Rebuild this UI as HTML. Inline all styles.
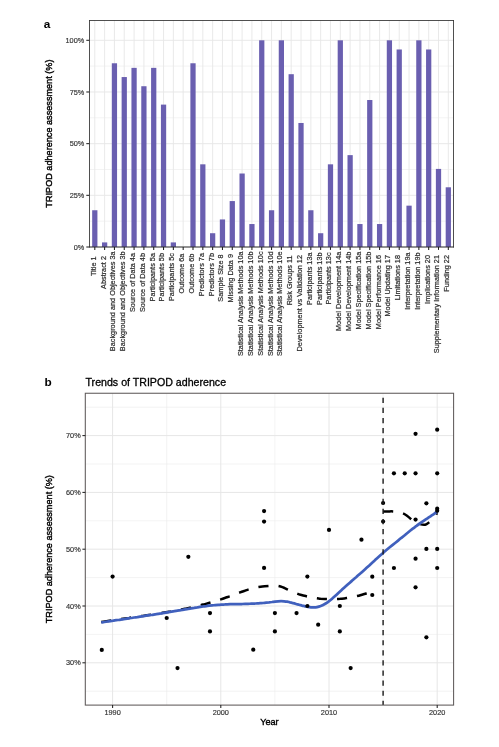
<!DOCTYPE html><html><head><meta charset="utf-8"><title>TRIPOD adherence</title>
<style>html,body{margin:0;padding:0;background:#fff}svg{display:block}text{font-family:"Liberation Sans",Arial,Helvetica,sans-serif;fill:#333}.blk{fill:#000}.tk{font-size:7.34px;fill:#353535;stroke:#353535;stroke-width:0.16px}.tkx{font-size:7.34px;fill:#303030;stroke:#303030;stroke-width:0.22px}.ti{stroke:#000;stroke-width:0.38px}</style></head><body>
<svg width="499" height="747" viewBox="0 0 499 747">
<rect width="499" height="747" fill="#fff"/>
<g id="panel-a">
<line x1="89.2" x2="453.6" y1="221.16" y2="221.16" stroke="#ebebeb" stroke-width="0.6"/>
<line x1="89.2" x2="453.6" y1="169.49" y2="169.49" stroke="#ebebeb" stroke-width="0.6"/>
<line x1="89.2" x2="453.6" y1="117.81" y2="117.81" stroke="#ebebeb" stroke-width="0.6"/>
<line x1="89.2" x2="453.6" y1="66.14" y2="66.14" stroke="#ebebeb" stroke-width="0.6"/>
<line x1="89.2" x2="453.6" y1="247.00" y2="247.00" stroke="#e6e6e6" stroke-width="0.9"/>
<line x1="89.2" x2="453.6" y1="195.32" y2="195.32" stroke="#e6e6e6" stroke-width="0.9"/>
<line x1="89.2" x2="453.6" y1="143.65" y2="143.65" stroke="#e6e6e6" stroke-width="0.9"/>
<line x1="89.2" x2="453.6" y1="91.98" y2="91.98" stroke="#e6e6e6" stroke-width="0.9"/>
<line x1="89.2" x2="453.6" y1="40.30" y2="40.30" stroke="#e6e6e6" stroke-width="0.9"/>
<line y1="20.2" y2="247.0" x1="94.80" x2="94.80" stroke="#e6e6e6" stroke-width="0.9"/>
<line y1="20.2" y2="247.0" x1="104.62" x2="104.62" stroke="#e6e6e6" stroke-width="0.9"/>
<line y1="20.2" y2="247.0" x1="114.44" x2="114.44" stroke="#e6e6e6" stroke-width="0.9"/>
<line y1="20.2" y2="247.0" x1="124.26" x2="124.26" stroke="#e6e6e6" stroke-width="0.9"/>
<line y1="20.2" y2="247.0" x1="134.08" x2="134.08" stroke="#e6e6e6" stroke-width="0.9"/>
<line y1="20.2" y2="247.0" x1="143.90" x2="143.90" stroke="#e6e6e6" stroke-width="0.9"/>
<line y1="20.2" y2="247.0" x1="153.72" x2="153.72" stroke="#e6e6e6" stroke-width="0.9"/>
<line y1="20.2" y2="247.0" x1="163.54" x2="163.54" stroke="#e6e6e6" stroke-width="0.9"/>
<line y1="20.2" y2="247.0" x1="173.36" x2="173.36" stroke="#e6e6e6" stroke-width="0.9"/>
<line y1="20.2" y2="247.0" x1="183.18" x2="183.18" stroke="#e6e6e6" stroke-width="0.9"/>
<line y1="20.2" y2="247.0" x1="193.00" x2="193.00" stroke="#e6e6e6" stroke-width="0.9"/>
<line y1="20.2" y2="247.0" x1="202.82" x2="202.82" stroke="#e6e6e6" stroke-width="0.9"/>
<line y1="20.2" y2="247.0" x1="212.64" x2="212.64" stroke="#e6e6e6" stroke-width="0.9"/>
<line y1="20.2" y2="247.0" x1="222.46" x2="222.46" stroke="#e6e6e6" stroke-width="0.9"/>
<line y1="20.2" y2="247.0" x1="232.28" x2="232.28" stroke="#e6e6e6" stroke-width="0.9"/>
<line y1="20.2" y2="247.0" x1="242.10" x2="242.10" stroke="#e6e6e6" stroke-width="0.9"/>
<line y1="20.2" y2="247.0" x1="251.92" x2="251.92" stroke="#e6e6e6" stroke-width="0.9"/>
<line y1="20.2" y2="247.0" x1="261.74" x2="261.74" stroke="#e6e6e6" stroke-width="0.9"/>
<line y1="20.2" y2="247.0" x1="271.56" x2="271.56" stroke="#e6e6e6" stroke-width="0.9"/>
<line y1="20.2" y2="247.0" x1="281.38" x2="281.38" stroke="#e6e6e6" stroke-width="0.9"/>
<line y1="20.2" y2="247.0" x1="291.20" x2="291.20" stroke="#e6e6e6" stroke-width="0.9"/>
<line y1="20.2" y2="247.0" x1="301.02" x2="301.02" stroke="#e6e6e6" stroke-width="0.9"/>
<line y1="20.2" y2="247.0" x1="310.84" x2="310.84" stroke="#e6e6e6" stroke-width="0.9"/>
<line y1="20.2" y2="247.0" x1="320.66" x2="320.66" stroke="#e6e6e6" stroke-width="0.9"/>
<line y1="20.2" y2="247.0" x1="330.48" x2="330.48" stroke="#e6e6e6" stroke-width="0.9"/>
<line y1="20.2" y2="247.0" x1="340.30" x2="340.30" stroke="#e6e6e6" stroke-width="0.9"/>
<line y1="20.2" y2="247.0" x1="350.12" x2="350.12" stroke="#e6e6e6" stroke-width="0.9"/>
<line y1="20.2" y2="247.0" x1="359.94" x2="359.94" stroke="#e6e6e6" stroke-width="0.9"/>
<line y1="20.2" y2="247.0" x1="369.76" x2="369.76" stroke="#e6e6e6" stroke-width="0.9"/>
<line y1="20.2" y2="247.0" x1="379.58" x2="379.58" stroke="#e6e6e6" stroke-width="0.9"/>
<line y1="20.2" y2="247.0" x1="389.40" x2="389.40" stroke="#e6e6e6" stroke-width="0.9"/>
<line y1="20.2" y2="247.0" x1="399.22" x2="399.22" stroke="#e6e6e6" stroke-width="0.9"/>
<line y1="20.2" y2="247.0" x1="409.04" x2="409.04" stroke="#e6e6e6" stroke-width="0.9"/>
<line y1="20.2" y2="247.0" x1="418.86" x2="418.86" stroke="#e6e6e6" stroke-width="0.9"/>
<line y1="20.2" y2="247.0" x1="428.68" x2="428.68" stroke="#e6e6e6" stroke-width="0.9"/>
<line y1="20.2" y2="247.0" x1="438.50" x2="438.50" stroke="#e6e6e6" stroke-width="0.9"/>
<line y1="20.2" y2="247.0" x1="448.32" x2="448.32" stroke="#e6e6e6" stroke-width="0.9"/>
<rect x="92.17" y="210.25" width="5.25" height="36.75" fill="#6a5fb0"/>
<rect x="102.00" y="242.41" width="5.25" height="4.59" fill="#6a5fb0"/>
<rect x="111.81" y="63.27" width="5.25" height="183.73" fill="#6a5fb0"/>
<rect x="121.63" y="77.05" width="5.25" height="169.95" fill="#6a5fb0"/>
<rect x="131.45" y="67.86" width="5.25" height="179.14" fill="#6a5fb0"/>
<rect x="141.28" y="86.23" width="5.25" height="160.77" fill="#6a5fb0"/>
<rect x="151.09" y="67.86" width="5.25" height="179.14" fill="#6a5fb0"/>
<rect x="160.92" y="104.61" width="5.25" height="142.39" fill="#6a5fb0"/>
<rect x="170.74" y="242.41" width="5.25" height="4.59" fill="#6a5fb0"/>
<rect x="190.38" y="63.27" width="5.25" height="183.73" fill="#6a5fb0"/>
<rect x="200.19" y="164.32" width="5.25" height="82.68" fill="#6a5fb0"/>
<rect x="210.01" y="233.22" width="5.25" height="13.78" fill="#6a5fb0"/>
<rect x="219.83" y="219.44" width="5.25" height="27.56" fill="#6a5fb0"/>
<rect x="229.66" y="201.07" width="5.25" height="45.93" fill="#6a5fb0"/>
<rect x="239.48" y="173.51" width="5.25" height="73.49" fill="#6a5fb0"/>
<rect x="249.30" y="224.03" width="5.25" height="22.97" fill="#6a5fb0"/>
<rect x="259.12" y="40.30" width="5.25" height="206.70" fill="#6a5fb0"/>
<rect x="268.94" y="210.25" width="5.25" height="36.75" fill="#6a5fb0"/>
<rect x="278.75" y="40.30" width="5.25" height="206.70" fill="#6a5fb0"/>
<rect x="288.57" y="74.20" width="5.25" height="172.80" fill="#6a5fb0"/>
<rect x="298.39" y="122.98" width="5.25" height="124.02" fill="#6a5fb0"/>
<rect x="308.22" y="210.25" width="5.25" height="36.75" fill="#6a5fb0"/>
<rect x="318.04" y="233.22" width="5.25" height="13.78" fill="#6a5fb0"/>
<rect x="327.86" y="164.32" width="5.25" height="82.68" fill="#6a5fb0"/>
<rect x="337.68" y="40.30" width="5.25" height="206.70" fill="#6a5fb0"/>
<rect x="347.50" y="155.13" width="5.25" height="91.87" fill="#6a5fb0"/>
<rect x="357.31" y="224.03" width="5.25" height="22.97" fill="#6a5fb0"/>
<rect x="367.14" y="100.01" width="5.25" height="146.99" fill="#6a5fb0"/>
<rect x="376.96" y="224.03" width="5.25" height="22.97" fill="#6a5fb0"/>
<rect x="386.78" y="40.30" width="5.25" height="206.70" fill="#6a5fb0"/>
<rect x="396.60" y="49.49" width="5.25" height="197.51" fill="#6a5fb0"/>
<rect x="406.42" y="205.66" width="5.25" height="41.34" fill="#6a5fb0"/>
<rect x="416.24" y="40.30" width="5.25" height="206.70" fill="#6a5fb0"/>
<rect x="426.06" y="49.49" width="5.25" height="197.51" fill="#6a5fb0"/>
<rect x="435.88" y="168.91" width="5.25" height="78.09" fill="#6a5fb0"/>
<rect x="445.69" y="187.29" width="5.25" height="59.71" fill="#6a5fb0"/>
<path d="M89.5,20.1V247.5M453.5,20.1V247.5M89.1,20.5H453.9" fill="none" stroke="#2f2f2f" stroke-width="0.85"/>
<path d="M89.1,247H453.9" fill="none" stroke="#2f2f2f" stroke-width="1.2"/>
<line x1="94.80" x2="94.80" y1="247.0" y2="249.9" stroke="#222" stroke-width="1.05"/>
<line x1="104.62" x2="104.62" y1="247.0" y2="249.9" stroke="#222" stroke-width="1.05"/>
<line x1="114.44" x2="114.44" y1="247.0" y2="249.9" stroke="#222" stroke-width="1.05"/>
<line x1="124.26" x2="124.26" y1="247.0" y2="249.9" stroke="#222" stroke-width="1.05"/>
<line x1="134.08" x2="134.08" y1="247.0" y2="249.9" stroke="#222" stroke-width="1.05"/>
<line x1="143.90" x2="143.90" y1="247.0" y2="249.9" stroke="#222" stroke-width="1.05"/>
<line x1="153.72" x2="153.72" y1="247.0" y2="249.9" stroke="#222" stroke-width="1.05"/>
<line x1="163.54" x2="163.54" y1="247.0" y2="249.9" stroke="#222" stroke-width="1.05"/>
<line x1="173.36" x2="173.36" y1="247.0" y2="249.9" stroke="#222" stroke-width="1.05"/>
<line x1="183.18" x2="183.18" y1="247.0" y2="249.9" stroke="#222" stroke-width="1.05"/>
<line x1="193.00" x2="193.00" y1="247.0" y2="249.9" stroke="#222" stroke-width="1.05"/>
<line x1="202.82" x2="202.82" y1="247.0" y2="249.9" stroke="#222" stroke-width="1.05"/>
<line x1="212.64" x2="212.64" y1="247.0" y2="249.9" stroke="#222" stroke-width="1.05"/>
<line x1="222.46" x2="222.46" y1="247.0" y2="249.9" stroke="#222" stroke-width="1.05"/>
<line x1="232.28" x2="232.28" y1="247.0" y2="249.9" stroke="#222" stroke-width="1.05"/>
<line x1="242.10" x2="242.10" y1="247.0" y2="249.9" stroke="#222" stroke-width="1.05"/>
<line x1="251.92" x2="251.92" y1="247.0" y2="249.9" stroke="#222" stroke-width="1.05"/>
<line x1="261.74" x2="261.74" y1="247.0" y2="249.9" stroke="#222" stroke-width="1.05"/>
<line x1="271.56" x2="271.56" y1="247.0" y2="249.9" stroke="#222" stroke-width="1.05"/>
<line x1="281.38" x2="281.38" y1="247.0" y2="249.9" stroke="#222" stroke-width="1.05"/>
<line x1="291.20" x2="291.20" y1="247.0" y2="249.9" stroke="#222" stroke-width="1.05"/>
<line x1="301.02" x2="301.02" y1="247.0" y2="249.9" stroke="#222" stroke-width="1.05"/>
<line x1="310.84" x2="310.84" y1="247.0" y2="249.9" stroke="#222" stroke-width="1.05"/>
<line x1="320.66" x2="320.66" y1="247.0" y2="249.9" stroke="#222" stroke-width="1.05"/>
<line x1="330.48" x2="330.48" y1="247.0" y2="249.9" stroke="#222" stroke-width="1.05"/>
<line x1="340.30" x2="340.30" y1="247.0" y2="249.9" stroke="#222" stroke-width="1.05"/>
<line x1="350.12" x2="350.12" y1="247.0" y2="249.9" stroke="#222" stroke-width="1.05"/>
<line x1="359.94" x2="359.94" y1="247.0" y2="249.9" stroke="#222" stroke-width="1.05"/>
<line x1="369.76" x2="369.76" y1="247.0" y2="249.9" stroke="#222" stroke-width="1.05"/>
<line x1="379.58" x2="379.58" y1="247.0" y2="249.9" stroke="#222" stroke-width="1.05"/>
<line x1="389.40" x2="389.40" y1="247.0" y2="249.9" stroke="#222" stroke-width="1.05"/>
<line x1="399.22" x2="399.22" y1="247.0" y2="249.9" stroke="#222" stroke-width="1.05"/>
<line x1="409.04" x2="409.04" y1="247.0" y2="249.9" stroke="#222" stroke-width="1.05"/>
<line x1="418.86" x2="418.86" y1="247.0" y2="249.9" stroke="#222" stroke-width="1.05"/>
<line x1="428.68" x2="428.68" y1="247.0" y2="249.9" stroke="#222" stroke-width="1.05"/>
<line x1="438.50" x2="438.50" y1="247.0" y2="249.9" stroke="#222" stroke-width="1.05"/>
<line x1="448.32" x2="448.32" y1="247.0" y2="249.9" stroke="#222" stroke-width="1.05"/>
<line x1="86.3" x2="89.2" y1="247.00" y2="247.00" stroke="#222" stroke-width="1.05"/>
<text class="tk" x="84.3" y="249.60" text-anchor="end">0%</text>
<line x1="86.3" x2="89.2" y1="195.32" y2="195.32" stroke="#222" stroke-width="1.05"/>
<text class="tk" x="84.3" y="197.92" text-anchor="end">25%</text>
<line x1="86.3" x2="89.2" y1="143.65" y2="143.65" stroke="#222" stroke-width="1.05"/>
<text class="tk" x="84.3" y="146.25" text-anchor="end">50%</text>
<line x1="86.3" x2="89.2" y1="91.98" y2="91.98" stroke="#222" stroke-width="1.05"/>
<text class="tk" x="84.3" y="94.58" text-anchor="end">75%</text>
<line x1="86.3" x2="89.2" y1="40.30" y2="40.30" stroke="#222" stroke-width="1.05"/>
<text class="tk" x="84.3" y="42.90" text-anchor="end">100%</text>
<text class="tkx" transform="translate(95.75,256.4) rotate(-90)" text-anchor="end">Title 1</text>
<text class="tkx" transform="translate(105.57,256) rotate(-90)" text-anchor="end">Abstract 2</text>
<text class="tkx" transform="translate(115.39,251.4) rotate(-90)" text-anchor="end">Background and Objectives 3a</text>
<text class="tkx" transform="translate(125.21,251.4) rotate(-90)" text-anchor="end">Background and Objectives 3b</text>
<text class="tkx" transform="translate(135.03,253) rotate(-90)" text-anchor="end">Source of Data 4a</text>
<text class="tkx" transform="translate(144.85,253) rotate(-90)" text-anchor="end">Source of Data 4b</text>
<text class="tkx" transform="translate(154.67,253) rotate(-90)" text-anchor="end">Participants 5a</text>
<text class="tkx" transform="translate(164.49,253) rotate(-90)" text-anchor="end">Participants 5b</text>
<text class="tkx" transform="translate(174.31,253) rotate(-90)" text-anchor="end">Participants 5c</text>
<text class="tkx" transform="translate(184.13,253.6) rotate(-90)" text-anchor="end">Outcome 6a</text>
<text class="tkx" transform="translate(193.95,253.6) rotate(-90)" text-anchor="end">Outcome 6b</text>
<text class="tkx" transform="translate(203.77,253) rotate(-90)" text-anchor="end">Predictors 7a</text>
<text class="tkx" transform="translate(213.59,253) rotate(-90)" text-anchor="end">Predictors 7b</text>
<text class="tkx" transform="translate(223.41,254.4) rotate(-90)" text-anchor="end">Sample Size 8</text>
<text class="tkx" transform="translate(233.23,254) rotate(-90)" text-anchor="end">Missing Data 9</text>
<text class="tkx" transform="translate(243.05,251.4) rotate(-90)" text-anchor="end">Statistical Analysis Methods 10a</text>
<text class="tkx" transform="translate(252.87,251.4) rotate(-90)" text-anchor="end">Statistical Analysis Methods 10b</text>
<text class="tkx" transform="translate(262.69,251.4) rotate(-90)" text-anchor="end">Statistical Analysis Methods 10c</text>
<text class="tkx" transform="translate(272.51,251.4) rotate(-90)" text-anchor="end">Statistical Analysis Methods 10d</text>
<text class="tkx" transform="translate(282.33,251.4) rotate(-90)" text-anchor="end">Statistical Analysis Methods 10e</text>
<text class="tkx" transform="translate(292.15,255.4) rotate(-90)" text-anchor="end">Risk Groups 11</text>
<text class="tkx" transform="translate(301.97,255) rotate(-90)" text-anchor="end">Development vs Validation 12</text>
<text class="tkx" transform="translate(311.79,252.4) rotate(-90)" text-anchor="end">Participants 13a</text>
<text class="tkx" transform="translate(321.61,252.4) rotate(-90)" text-anchor="end">Participants 13b</text>
<text class="tkx" transform="translate(331.43,252.4) rotate(-90)" text-anchor="end">Participants 13c</text>
<text class="tkx" transform="translate(341.25,251.6) rotate(-90)" text-anchor="end">Model Development 14a</text>
<text class="tkx" transform="translate(351.07,251.6) rotate(-90)" text-anchor="end">Model Development 14b</text>
<text class="tkx" transform="translate(360.89,251.6) rotate(-90)" text-anchor="end">Model Specification 15a</text>
<text class="tkx" transform="translate(370.71,251.6) rotate(-90)" text-anchor="end">Model Specification 15b</text>
<text class="tkx" transform="translate(380.53,255) rotate(-90)" text-anchor="end">Model Performance 16</text>
<text class="tkx" transform="translate(390.35,255) rotate(-90)" text-anchor="end">Model Updating 17</text>
<text class="tkx" transform="translate(400.17,255) rotate(-90)" text-anchor="end">Limitations 18</text>
<text class="tkx" transform="translate(409.99,252.4) rotate(-90)" text-anchor="end">Interpretation 19a</text>
<text class="tkx" transform="translate(419.81,252.4) rotate(-90)" text-anchor="end">Interpretation 19b</text>
<text class="tkx" transform="translate(429.63,255) rotate(-90)" text-anchor="end">Implications 20</text>
<text class="tkx" transform="translate(439.45,255) rotate(-90)" text-anchor="end">Supplementary Information 21</text>
<text class="tkx" transform="translate(449.27,255) rotate(-90)" text-anchor="end">Funding 22</text>
<text class="blk ti" transform="translate(51.5,133.60) rotate(-90) scale(1,1.08)" font-size="9.13" text-anchor="middle">TRIPOD adherence assessment (%)</text>
<text class="blk" x="43.8" y="27.7" font-size="11.8" font-weight="bold">a</text>
</g>
<g id="panel-b">
<line x1="85.3" x2="453.6" y1="691.20" y2="691.20" stroke="#ebebeb" stroke-width="0.6"/>
<line x1="85.3" x2="453.6" y1="634.40" y2="634.40" stroke="#ebebeb" stroke-width="0.6"/>
<line x1="85.3" x2="453.6" y1="577.60" y2="577.60" stroke="#ebebeb" stroke-width="0.6"/>
<line x1="85.3" x2="453.6" y1="520.80" y2="520.80" stroke="#ebebeb" stroke-width="0.6"/>
<line x1="85.3" x2="453.6" y1="464.00" y2="464.00" stroke="#ebebeb" stroke-width="0.6"/>
<line x1="85.3" x2="453.6" y1="407.20" y2="407.20" stroke="#ebebeb" stroke-width="0.6"/>
<line y1="393.25" y2="705.1" x1="166.70" x2="166.70" stroke="#ebebeb" stroke-width="0.6"/>
<line y1="393.25" y2="705.1" x1="274.90" x2="274.90" stroke="#ebebeb" stroke-width="0.6"/>
<line y1="393.25" y2="705.1" x1="383.10" x2="383.10" stroke="#ebebeb" stroke-width="0.6"/>
<line x1="85.3" x2="453.6" y1="662.80" y2="662.80" stroke="#e6e6e6" stroke-width="1"/>
<line x1="85.3" x2="453.6" y1="606.00" y2="606.00" stroke="#e6e6e6" stroke-width="1"/>
<line x1="85.3" x2="453.6" y1="549.20" y2="549.20" stroke="#e6e6e6" stroke-width="1"/>
<line x1="85.3" x2="453.6" y1="492.40" y2="492.40" stroke="#e6e6e6" stroke-width="1"/>
<line x1="85.3" x2="453.6" y1="435.60" y2="435.60" stroke="#e6e6e6" stroke-width="1"/>
<line y1="393.25" y2="705.1" x1="112.60" x2="112.60" stroke="#e6e6e6" stroke-width="1"/>
<line y1="393.25" y2="705.1" x1="220.80" x2="220.80" stroke="#e6e6e6" stroke-width="1"/>
<line y1="393.25" y2="705.1" x1="329.00" x2="329.00" stroke="#e6e6e6" stroke-width="1"/>
<line y1="393.25" y2="705.1" x1="437.20" x2="437.20" stroke="#e6e6e6" stroke-width="1"/>
<path d="M101.2,622.1 C101.9,622.0 103.9,621.7 105.2,621.4 C106.5,621.2 107.8,621.0 109.2,620.8 C110.5,620.6 111.8,620.4 113.2,620.2 C114.5,620.0 115.8,619.8 117.1,619.6 C118.5,619.4 119.8,619.2 121.1,619.0 C122.5,618.8 123.8,618.6 125.1,618.4 C126.4,618.2 127.8,618.0 129.1,617.9 C130.4,617.7 131.8,617.5 133.1,617.3 C134.4,617.1 135.8,616.9 137.1,616.7 C138.4,616.5 139.7,616.3 141.1,616.1 C142.4,616.0 143.7,615.8 145.1,615.6 C146.4,615.4 147.7,615.2 149.0,615.0 C150.4,614.8 151.7,614.6 153.0,614.4 C154.4,614.2 155.7,614.0 157.0,613.8 C158.3,613.6 159.7,613.4 161.0,613.2 C162.3,612.9 163.7,612.7 165.0,612.5 C166.3,612.3 167.6,612.1 169.0,611.8 C170.3,611.6 171.6,611.4 173.0,611.1 C174.3,610.9 175.6,610.6 176.9,610.4 C178.3,610.1 179.6,609.9 180.9,609.6 C182.3,609.4 183.6,609.1 184.9,608.8 C186.3,608.5 187.6,608.3 188.9,608.0 C190.2,607.7 191.6,607.4 192.9,607.1 C194.2,606.8 195.6,606.5 196.9,606.1 C198.2,605.8 199.5,605.5 200.9,605.2 C202.2,604.8 203.5,604.5 204.9,604.1 C206.2,603.8 207.5,603.4 208.8,603.0 C210.2,602.7 211.5,602.3 212.8,601.9 C214.2,601.5 215.5,601.1 216.8,600.7 C218.1,600.3 219.5,599.8 220.8,599.4 C222.1,599.0 223.5,598.5 224.8,598.0 C226.1,597.6 227.4,597.1 228.8,596.6 C230.1,596.1 231.4,595.6 232.8,595.1 C234.1,594.6 235.4,594.1 236.8,593.6 C238.1,593.1 239.4,592.6 240.7,592.1 C242.1,591.6 243.4,591.1 244.7,590.7 C246.1,590.2 247.4,589.7 248.7,589.3 C250.0,588.9 251.4,588.5 252.7,588.2 C254.0,587.9 255.4,587.6 256.7,587.3 C258.0,587.1 259.3,586.9 260.7,586.7 C262.0,586.5 263.3,586.4 264.7,586.3 C266.0,586.2 267.3,586.1 268.6,586.0 C270.0,585.9 271.3,585.8 272.6,585.7 C274.0,585.6 275.3,585.6 276.6,585.7 C277.9,585.8 279.3,586.1 280.6,586.5 C281.9,586.9 283.3,587.6 284.6,588.1 C285.9,588.7 287.2,589.4 288.6,590.0 C289.9,590.7 291.2,591.2 292.6,591.8 C293.9,592.4 295.2,592.9 296.6,593.3 C297.9,593.8 299.2,594.3 300.5,594.7 C301.9,595.1 303.2,595.5 304.5,595.8 C305.9,596.2 307.2,596.5 308.5,596.8 C309.8,597.1 311.2,597.4 312.5,597.6 C313.8,597.8 315.2,598.0 316.5,598.2 C317.8,598.4 319.1,598.5 320.5,598.7 C321.8,598.8 323.1,598.9 324.5,599.0 C325.8,599.0 327.1,599.1 328.4,599.1 C329.8,599.1 331.1,599.1 332.4,599.1 C333.8,599.1 335.1,599.1 336.4,599.0 C337.7,598.9 339.1,598.9 340.4,598.8 C341.7,598.6 343.1,598.5 344.4,598.4 C345.7,598.2 347.1,598.0 348.4,597.8 C349.7,597.6 351.0,597.4 352.4,597.1 C353.7,596.8 355.0,596.6 356.4,596.2 C357.7,595.9 359.0,595.6 360.3,595.2 C361.7,594.8 363.0,594.4 364.3,594.0 C365.7,593.6 367.0,593.1 368.3,592.6 C369.6,592.1 371.6,591.3 372.3,591.1" fill="none" stroke="#000" stroke-width="2.5" stroke-dasharray="10.1 10.1"/>
<path d="M383.1,511.4 C383.9,511.4 386.4,511.4 388.0,511.4 C389.6,511.4 391.3,511.3 393.0,511.4 C394.7,511.5 396.4,511.5 398.0,511.8 C399.6,512.1 401.4,512.6 402.9,513.3 C404.4,513.9 405.7,514.8 407.0,515.7 C408.3,516.7 409.6,517.9 410.9,519.0 C412.2,520.1 413.5,521.4 415.0,522.2 C416.5,523.1 418.3,523.7 419.8,524.1 C421.3,524.5 422.8,524.8 424.0,524.8 C425.2,524.8 426.1,524.3 427.0,523.9 C427.9,523.5 428.3,523.1 429.3,522.2 C430.3,521.4 431.7,520.3 433.0,518.8 C434.3,517.3 436.4,514.0 437.1,513.0" fill="none" stroke="#000" stroke-width="2.5" stroke-dasharray="10.1 10.1"/>
<path d="M101.2,622.5 C101.7,622.4 103.2,622.2 104.2,622.0 C105.2,621.8 106.2,621.7 107.2,621.5 C108.2,621.4 109.2,621.2 110.2,621.1 C111.2,621.0 112.2,620.8 113.2,620.7 C114.2,620.5 115.2,620.4 116.2,620.2 C117.2,620.1 118.2,619.9 119.2,619.8 C120.2,619.6 121.2,619.5 122.2,619.3 C123.2,619.2 124.2,619.0 125.2,618.9 C126.2,618.7 127.2,618.6 128.2,618.4 C129.2,618.3 130.2,618.1 131.2,618.0 C132.2,617.8 133.2,617.7 134.2,617.5 C135.2,617.4 136.2,617.2 137.2,617.1 C138.2,616.9 139.2,616.8 140.2,616.6 C141.2,616.5 142.2,616.3 143.2,616.2 C144.2,616.0 145.2,615.9 146.2,615.7 C147.2,615.6 148.2,615.4 149.2,615.2 C150.2,615.1 151.2,614.9 152.2,614.8 C153.2,614.6 154.2,614.5 155.2,614.3 C156.2,614.2 157.2,614.0 158.2,613.8 C159.2,613.7 160.2,613.5 161.2,613.4 C162.2,613.2 163.2,613.1 164.2,612.9 C165.2,612.7 166.2,612.6 167.2,612.4 C168.2,612.2 169.2,612.1 170.2,611.9 C171.2,611.8 172.2,611.6 173.2,611.4 C174.2,611.3 175.2,611.1 176.2,610.9 C177.2,610.8 178.2,610.6 179.2,610.4 C180.2,610.2 181.2,610.1 182.2,609.9 C183.2,609.7 184.2,609.6 185.2,609.4 C186.2,609.2 187.2,609.0 188.2,608.9 C189.2,608.7 190.2,608.5 191.2,608.4 C192.2,608.2 193.2,608.0 194.2,607.9 C195.2,607.7 196.2,607.5 197.2,607.4 C198.2,607.2 199.2,607.1 200.2,606.9 C201.2,606.8 202.2,606.6 203.2,606.5 C204.2,606.3 205.2,606.2 206.2,606.1 C207.2,605.9 208.2,605.8 209.2,605.7 C210.2,605.6 211.2,605.5 212.2,605.4 C213.2,605.3 214.2,605.2 215.2,605.1 C216.2,605.0 217.2,604.9 218.2,604.8 C219.2,604.8 220.2,604.7 221.2,604.6 C222.2,604.6 223.2,604.5 224.2,604.5 C225.2,604.4 226.2,604.4 227.2,604.3 C228.2,604.3 229.2,604.3 230.2,604.2 C231.2,604.2 232.2,604.2 233.2,604.2 C234.2,604.1 235.2,604.1 236.2,604.1 C237.2,604.1 238.2,604.0 239.2,604.0 C240.2,604.0 241.2,604.0 242.2,604.0 C243.2,603.9 244.2,603.9 245.2,603.9 C246.2,603.9 247.2,603.8 248.2,603.8 C249.2,603.8 250.2,603.7 251.2,603.7 C252.2,603.7 253.2,603.6 254.2,603.6 C255.2,603.5 256.2,603.5 257.2,603.4 C258.2,603.4 259.2,603.3 260.2,603.2 C261.2,603.2 262.2,603.1 263.2,603.0 C264.2,602.9 265.2,602.8 266.2,602.7 C267.2,602.6 268.2,602.5 269.2,602.4 C270.1,602.2 271.1,602.1 272.1,602.0 C273.1,601.8 274.1,601.7 275.1,601.6 C276.1,601.5 277.1,601.4 278.1,601.3 C279.1,601.2 280.1,601.1 281.1,601.1 C282.1,601.1 283.1,601.2 284.1,601.3 C285.1,601.4 286.1,601.5 287.1,601.7 C288.1,601.9 289.1,602.1 290.1,602.4 C291.1,602.6 292.1,602.9 293.1,603.2 C294.1,603.4 295.1,603.7 296.1,604.0 C297.1,604.3 298.1,604.5 299.1,604.8 C300.1,605.1 301.1,605.3 302.1,605.6 C303.1,605.8 304.1,606.1 305.1,606.3 C306.1,606.6 307.1,606.8 308.1,606.9 C309.1,607.1 310.1,607.2 311.1,607.3 C312.1,607.4 313.1,607.4 314.1,607.4 C315.1,607.4 316.1,607.3 317.1,607.1 C318.1,606.9 319.1,606.7 320.1,606.3 C321.1,606.0 322.1,605.5 323.1,605.0 C324.1,604.5 325.1,603.9 326.1,603.3 C327.1,602.6 328.1,601.9 329.1,601.1 C330.1,600.4 331.1,599.6 332.1,598.7 C333.1,597.9 334.1,597.0 335.1,596.1 C336.1,595.2 337.1,594.3 338.1,593.3 C339.1,592.4 340.1,591.5 341.1,590.6 C342.1,589.6 343.1,588.7 344.1,587.8 C345.1,586.9 346.1,586.0 347.1,585.1 C348.1,584.2 349.1,583.3 350.1,582.4 C351.1,581.5 352.1,580.7 353.1,579.8 C354.1,578.9 355.1,578.0 356.1,577.2 C357.1,576.3 358.1,575.4 359.1,574.5 C360.1,573.6 361.1,572.8 362.1,571.9 C363.1,571.0 364.1,570.1 365.1,569.2 C366.1,568.3 367.1,567.4 368.1,566.5 C369.1,565.6 370.1,564.7 371.1,563.8 C372.1,562.9 373.1,562.0 374.1,561.1 C375.1,560.1 376.1,559.2 377.1,558.3 C378.1,557.4 379.1,556.5 380.1,555.6 C381.1,554.7 382.1,553.8 383.1,552.9 C384.1,552.1 385.1,551.2 386.1,550.3 C387.1,549.5 388.1,548.6 389.1,547.8 C390.1,547.0 391.1,546.2 392.1,545.4 C393.1,544.6 394.1,543.8 395.1,543.0 C396.1,542.2 397.1,541.4 398.1,540.6 C399.1,539.8 400.1,539.0 401.1,538.1 C402.1,537.3 403.1,536.5 404.1,535.7 C405.1,534.9 406.1,534.0 407.1,533.2 C408.1,532.4 409.1,531.6 410.1,530.8 C411.1,530.0 412.1,529.2 413.1,528.4 C414.1,527.7 415.1,526.9 416.1,526.2 C417.1,525.4 418.1,524.7 419.1,524.0 C420.1,523.3 421.1,522.6 422.1,521.9 C423.1,521.2 424.1,520.5 425.1,519.8 C426.1,519.1 427.1,518.5 428.1,517.8 C429.1,517.1 430.1,516.5 431.1,515.8 C432.1,515.1 433.1,514.5 434.1,513.8 C435.1,513.1 436.6,512.1 437.1,511.8" fill="none" stroke="#4060bd" stroke-width="2.75" stroke-linejoin="round"/>
<circle cx="101.78" cy="649.90" r="2.1" fill="#000"/>
<circle cx="112.60" cy="576.60" r="2.1" fill="#000"/>
<circle cx="166.70" cy="618.00" r="2.1" fill="#000"/>
<circle cx="177.52" cy="668.10" r="2.1" fill="#000"/>
<circle cx="188.34" cy="556.80" r="2.1" fill="#000"/>
<circle cx="209.98" cy="613.10" r="2.1" fill="#000"/>
<circle cx="209.98" cy="631.40" r="2.1" fill="#000"/>
<circle cx="253.26" cy="649.70" r="2.1" fill="#000"/>
<circle cx="264.08" cy="511.10" r="2.1" fill="#000"/>
<circle cx="264.08" cy="521.60" r="2.1" fill="#000"/>
<circle cx="264.08" cy="567.90" r="2.1" fill="#000"/>
<circle cx="274.90" cy="613.10" r="2.1" fill="#000"/>
<circle cx="274.90" cy="631.40" r="2.1" fill="#000"/>
<circle cx="296.54" cy="613.10" r="2.1" fill="#000"/>
<circle cx="307.36" cy="576.60" r="2.1" fill="#000"/>
<circle cx="307.36" cy="606.00" r="2.1" fill="#000"/>
<circle cx="318.18" cy="624.70" r="2.1" fill="#000"/>
<circle cx="329.00" cy="529.90" r="2.1" fill="#000"/>
<circle cx="339.82" cy="606.00" r="2.1" fill="#000"/>
<circle cx="339.82" cy="631.40" r="2.1" fill="#000"/>
<circle cx="350.64" cy="668.10" r="2.1" fill="#000"/>
<circle cx="361.46" cy="539.70" r="2.1" fill="#000"/>
<circle cx="372.28" cy="576.70" r="2.1" fill="#000"/>
<circle cx="372.28" cy="595.00" r="2.1" fill="#000"/>
<circle cx="383.10" cy="503.00" r="2.1" fill="#000"/>
<circle cx="383.10" cy="521.50" r="2.1" fill="#000"/>
<circle cx="393.92" cy="473.30" r="2.1" fill="#000"/>
<circle cx="393.92" cy="568.00" r="2.1" fill="#000"/>
<circle cx="404.74" cy="473.30" r="2.1" fill="#000"/>
<circle cx="415.56" cy="433.80" r="2.1" fill="#000"/>
<circle cx="415.56" cy="473.30" r="2.1" fill="#000"/>
<circle cx="415.56" cy="519.60" r="2.1" fill="#000"/>
<circle cx="415.56" cy="558.70" r="2.1" fill="#000"/>
<circle cx="415.56" cy="587.30" r="2.1" fill="#000"/>
<circle cx="426.38" cy="503.30" r="2.1" fill="#000"/>
<circle cx="426.38" cy="548.90" r="2.1" fill="#000"/>
<circle cx="426.38" cy="637.30" r="2.1" fill="#000"/>
<circle cx="437.20" cy="429.70" r="2.1" fill="#000"/>
<circle cx="437.20" cy="473.30" r="2.1" fill="#000"/>
<circle cx="437.20" cy="508.70" r="2.1" fill="#000"/>
<circle cx="437.20" cy="510.80" r="2.1" fill="#000"/>
<circle cx="437.20" cy="548.90" r="2.1" fill="#000"/>
<circle cx="437.20" cy="568.00" r="2.1" fill="#000"/>
<line x1="383.10" x2="383.10" y1="393.25" y2="705.1" stroke="#1a1a1a" stroke-width="1.4" stroke-dasharray="5.2 4.9" stroke-dashoffset="5.6"/>
<rect x="85.3" y="393.25" width="368.30" height="311.85" fill="none" stroke="#5e5959" stroke-width="1.05"/>
<line x1="82.39999999999999" x2="85.3" y1="662.80" y2="662.80" stroke="#222" stroke-width="1.05"/>
<text class="tk" x="80.7" y="665.40" text-anchor="end">30%</text>
<line x1="82.39999999999999" x2="85.3" y1="606.00" y2="606.00" stroke="#222" stroke-width="1.05"/>
<text class="tk" x="80.7" y="608.60" text-anchor="end">40%</text>
<line x1="82.39999999999999" x2="85.3" y1="549.20" y2="549.20" stroke="#222" stroke-width="1.05"/>
<text class="tk" x="80.7" y="551.80" text-anchor="end">50%</text>
<line x1="82.39999999999999" x2="85.3" y1="492.40" y2="492.40" stroke="#222" stroke-width="1.05"/>
<text class="tk" x="80.7" y="495.00" text-anchor="end">60%</text>
<line x1="82.39999999999999" x2="85.3" y1="435.60" y2="435.60" stroke="#222" stroke-width="1.05"/>
<text class="tk" x="80.7" y="438.20" text-anchor="end">70%</text>
<line x1="112.60" x2="112.60" y1="705.1" y2="708.0" stroke="#222" stroke-width="1.05"/>
<text class="tk" x="112.60" y="714.6" text-anchor="middle">1990</text>
<line x1="220.80" x2="220.80" y1="705.1" y2="708.0" stroke="#222" stroke-width="1.05"/>
<text class="tk" x="220.80" y="714.6" text-anchor="middle">2000</text>
<line x1="329.00" x2="329.00" y1="705.1" y2="708.0" stroke="#222" stroke-width="1.05"/>
<text class="tk" x="329.00" y="714.6" text-anchor="middle">2010</text>
<line x1="437.20" x2="437.20" y1="705.1" y2="708.0" stroke="#222" stroke-width="1.05"/>
<text class="tk" x="437.20" y="714.6" text-anchor="middle">2020</text>
<text class="blk ti" transform="translate(51.5,549.17) rotate(-90) scale(1,1.08)" font-size="9.13" text-anchor="middle">TRIPOD adherence assessment (%)</text>
<text class="blk ti" x="269.45" y="724.5" font-size="9.13" text-anchor="middle">Year</text>
<text class="blk" x="85.5" y="385.7" font-size="10.64" stroke="#000" stroke-width="0.3">Trends of TRIPOD adherence</text>
<text class="blk" x="44.6" y="385.7" font-size="11.8" font-weight="bold">b</text>
</g>
</svg></body></html>
